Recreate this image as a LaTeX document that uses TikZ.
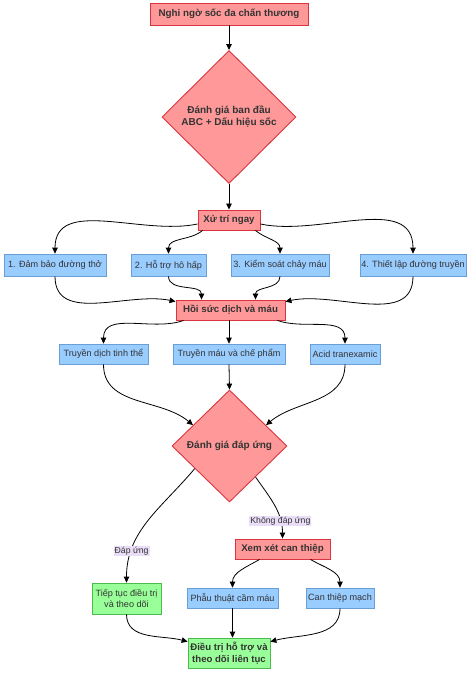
\documentclass[tikz,border=0pt]{standalone}
\usepackage{fontspec}
\setmainfont{Liberation Sans}
\usetikzlibrary{shapes.geometric,arrows.meta,calc}
\definecolor{redfill}{HTML}{FF9999}
\definecolor{reddraw}{HTML}{D9343F}
\definecolor{bluefill}{HTML}{99CCFF}
\definecolor{bluedraw}{HTML}{6A9FD6}
\definecolor{greenfill}{HTML}{99FF99}
\definecolor{greendraw}{HTML}{4FB84F}
\definecolor{txt}{HTML}{333333}
\definecolor{lblfill}{HTML}{E9DDF7}
\tikzset{
  base/.style={inner sep=1pt, align=center, text=txt, font=\fontsize{9.1}{11}\selectfont},
  redbox/.style={base, rectangle, fill=redfill, draw=reddraw, line width=0.9pt, font=\fontsize{9.7}{11}\selectfont\bfseries},
  reddia/.style={base, diamond, fill=redfill, draw=reddraw, line width=0.9pt, font=\fontsize{10}{12}\selectfont\bfseries, inner sep=0pt},
  bluebox/.style={base, rectangle, fill=bluefill, draw=bluedraw, line width=0.7pt},
  greenbox/.style={base, rectangle, fill=greenfill, draw=greendraw, line width=0.7pt},
  arr/.style={draw=black, line width=0.8pt, -{Triangle[length=6pt,width=5.5pt]}},
  lbl/.style={base, fill=lblfill, inner sep=1pt, text=txt, font=\fontsize{8.7}{10}\selectfont},
}
\begin{document}
\begin{tikzpicture}[x=1pt,y=1pt]
\useasboundingbox (0,0) rectangle (474,-673);
\node[redbox, minimum width=158pt, minimum height=22pt, font=\fontsize{9.8}{11}\selectfont\bfseries] (top) at (229,-14) {Nghi ngờ sốc đa chấn thương};
\node[reddia, minimum width=134pt, minimum height=133pt] (d1) at (229,-117) {Đánh giá ban đầu\\ABC + Dấu hiệu sốc};
\node[redbox, minimum width=62pt, minimum height=20pt] (xt) at (229,-220) {Xử trí ngay};
\node[bluebox, minimum width=102pt, minimum height=22pt] (a1) at (55,-265) {1. Đảm bảo đường thở};
\node[bluebox, minimum width=75pt, minimum height=22pt] (a2) at (168.5,-265) {2. Hỗ trợ hô hấp};
\node[bluebox, minimum width=98pt, minimum height=22pt] (a3) at (280,-265) {3. Kiểm soát chảy máu};
\node[bluebox, minimum width=106pt, minimum height=22pt] (a4) at (413,-265) {4. Thiết lập đường truyền};
\node[redbox, minimum width=109pt, minimum height=20pt] (hs) at (230.5,-310) {Hồi sức dịch và máu};
\node[bluebox, minimum width=89pt, minimum height=20pt] (b1) at (103.5,-354) {Truyền dịch tinh thể};
\node[bluebox, minimum width=112pt, minimum height=20pt] (b2) at (229,-354) {Truyền máu và chế phẩm};
\node[bluebox, minimum width=70pt, minimum height=20pt] (b3) at (345,-354) {Acid tranexamic};
\node[reddia, minimum width=115pt, minimum height=112pt] (d2) at (229.5,-446) {Đánh giá đáp ứng};
\node[redbox, minimum width=95pt, minimum height=20pt] (xx) at (282.5,-549) {Xem xét can thiệp};
\node[greenbox, minimum width=69pt, minimum height=31pt] (t1) at (126.5,-598.5) {Tiếp tục điều trị\\và theo dõi};
\node[bluebox, minimum width=91pt, minimum height=20pt] (p1) at (232.5,-598) {Phẫu thuật cầm máu};
\node[bluebox, minimum width=68pt, minimum height=20pt] (p2) at (340,-598) {Can thiệp mạch};
\node[greenbox, minimum width=82pt, minimum height=30pt, font=\fontsize{9.6}{11.5}\selectfont\bfseries] (f) at (229,-653) {Điều trị hỗ trợ và\\theo dõi liên tục};

\draw[arr] (top.south) -- (d1.north);
\draw[arr] (d1.south) -- (xt.north);
\draw[arr] ([yshift=-4pt]xt.west) to[out=192,in=90] (a1.north);
\draw[arr] ([xshift=5pt]xt.south west) to[out=-140,in=90] (a2.north);
\draw[arr] ([xshift=-5pt]xt.south east) to[out=-40,in=90] (a3.north);
\draw[arr] ([yshift=-4pt]xt.east) to[out=-12,in=90] (a4.north);

\draw[arr] (a1.south) to[out=-90,in=168] ([yshift=-2pt]hs.north west);
\draw[arr] (a2.south) to[out=-90,in=90] ([xshift=-29pt]hs.north);
\draw[arr] (a3.south) to[out=-90,in=90] ([xshift=25pt]hs.north);
\draw[arr] (a4.south) to[out=-90,in=12] ([yshift=-2pt]hs.north east);

\draw[arr] ([xshift=8pt]hs.south west) to[out=-160,in=90] (b1.north);
\draw[arr] (b2.north |- hs.south) -- (b2.north);
\draw[arr] ([xshift=-8pt]hs.south east) to[out=-20,in=90] (b3.north);

\draw[arr] (b1.south) to[out=-90,in=140] ($(d2.west)!0.37!(d2.north)$);
\draw[arr] (b2.south) -- (d2.north);
\draw[arr] (b3.south) to[out=-90,in=40] ($(d2.east)!0.37!(d2.north)$);

\draw[arr] ($(d2.west)!0.4!(d2.south)$) to[out=-130,in=90] node[lbl, pos=0.77] {Đáp ứng} (t1.north);
\draw[arr] ($(d2.east)!0.55!(d2.south)$) to[out=-55,in=90] node[lbl, pos=0.75] {Không đáp ứng} (xx.north);

\draw[arr] ([xshift=25pt]xx.south west) to[out=-150,in=90] (p1.north);
\draw[arr] ([xshift=-20pt]xx.south east) to[out=-30,in=90] (p2.north);

\draw[arr] (t1.south) to[out=-90,in=165] ([yshift=-4pt]f.north west);
\draw[arr] (p1.south) -- (p1.south |- f.north);
\draw[arr] (p2.south) to[out=-90,in=15] ([yshift=-4pt]f.north east);
\end{tikzpicture}
\end{document}
